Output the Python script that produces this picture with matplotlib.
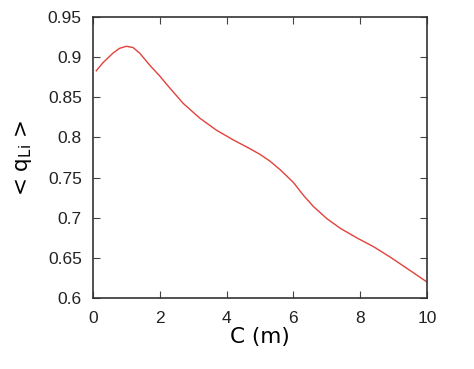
import matplotlib
matplotlib.use("Agg")
import matplotlib.pyplot as plt

c_vals = [0.1, 0.3, 0.6, 0.8, 1.0, 1.2, 1.4, 1.7, 2.0, 2.2, 2.7, 3.2, 3.7, 4.2, 4.7, 5.0, 5.3, 5.6, 5.8, 6.0, 6.3, 6.6, 7.0, 7.4, 7.9, 8.4, 8.9, 9.4, 10.0]
q_vals = [0.883, 0.893, 0.905, 0.911, 0.9135, 0.912, 0.905, 0.890, 0.8765, 0.8665, 0.8425, 0.824, 0.809, 0.797, 0.786, 0.779, 0.7705, 0.760, 0.752, 0.744, 0.728, 0.714, 0.699, 0.687, 0.675, 0.664, 0.651, 0.637, 0.620]
x_ticks = [0, 2, 4, 6, 8, 10]
y_ticks = [0.6, 0.65, 0.7, 0.75, 0.8, 0.85, 0.9, 0.95]
y_tick_labels = ["0.6", "0.65", "0.7", "0.75", "0.8", "0.85", "0.9", "0.95"]

plt.rcParams['font.family'] = ['Liberation Sans', 'DejaVu Sans']
plt.rcParams['mathtext.fontset'] = 'dejavusans'
fig = plt.figure(figsize=(4.74, 3.69), dpi=100)
ax = fig.add_axes([0.196, 0.192, 0.705, 0.762])
ax.plot(c_vals, q_vals, color='#e3413b', lw=1.0, solid_joinstyle='round')
ax.set_xlim(0, 10)
ax.set_ylim(0.6, 0.95)
ax.set_xticks(x_ticks)
ax.set_yticks(y_ticks)
ax.set_yticklabels(y_tick_labels)
ax.tick_params(direction='in', top=True, right=True, labelsize=12.5, length=5, width=0.8, colors='#444444', labelcolor='#222222')
ax.tick_params(axis='x', pad=9)
ax.tick_params(axis='y', pad=8)
for s in ax.spines.values():
    s.set_linewidth(1.2)
    s.set_color('#333333')
ax.set_xlabel('C (m)', fontsize=15.5, family='DejaVu Sans', labelpad=1)
ax.set_ylabel(r'< q$_{\mathregular{Li}}$ >', fontsize=15.5, family='DejaVu Sans', labelpad=10)
fig.savefig('out.png', dpi=100)
